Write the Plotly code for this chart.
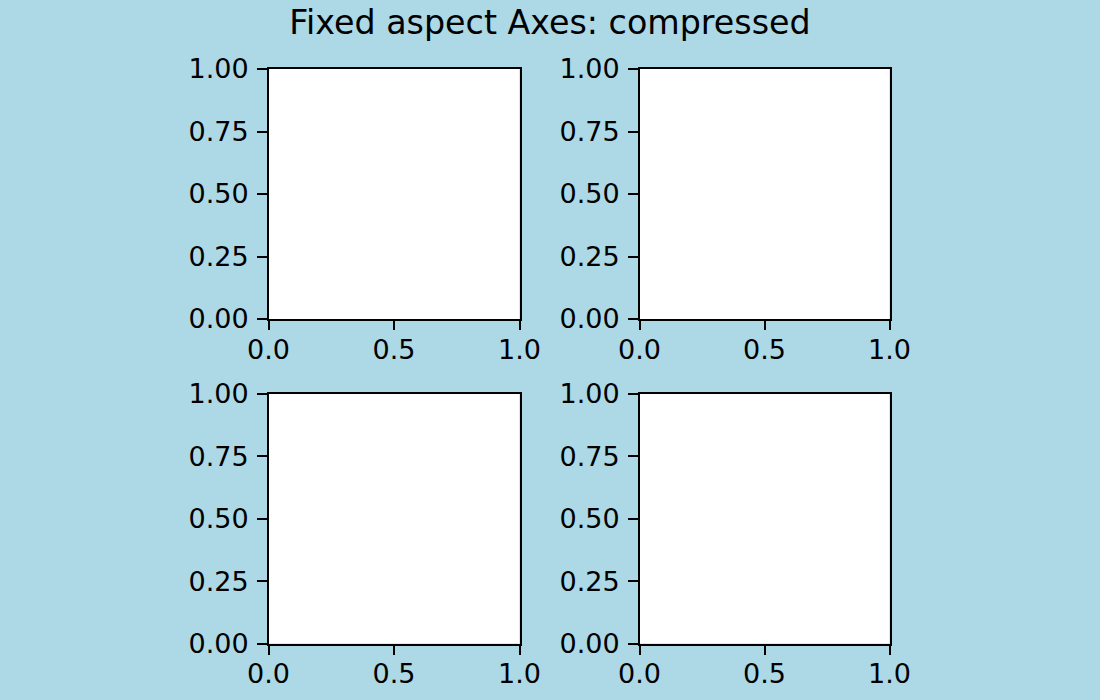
import plotly.graph_objects as go

title_text = "Fixed aspect Axes: compressed"
x_ticks = [0.0, 0.5, 1.0]
x_tick_labels = ["0.0", "0.5", "1.0"]
y_ticks = [0.0, 0.25, 0.5, 0.75, 1.0]
y_tick_labels = ["0.00", "0.25", "0.50", "0.75", "1.00"]

W, H = 1100, 700
cols = [(268.5, 519.5), (639.5, 889.5)]
rows = [(69, 319), (394, 643.5)]

fig = go.Figure()
font = dict(family="DejaVu Sans", size=27, color="black")
n = 0
for r in rows:
    for c in cols:
        n += 1
        sx = "" if n == 1 else str(n)
        fig.add_trace(go.Scatter(x=[], y=[], xaxis="x" + sx, yaxis="y" + sx, showlegend=False))
        common = dict(range=[0, 1], showgrid=False, zeroline=False, showline=True, linecolor="black",
                      linewidth=1.8, mirror=True, ticks="outside", ticklen=9.5, tickwidth=1.8,
                      tickcolor="black", tickfont=font, fixedrange=True, automargin=False)
        fig.layout["xaxis" + sx] = dict(common, domain=[c[0] / W, c[1] / W], anchor="y" + sx,
                                        tickvals=x_ticks, ticktext=x_tick_labels,
                                        ticklabelstandoff=-4)
        fig.layout["yaxis" + sx] = dict(common, domain=[1 - r[1] / H, 1 - r[0] / H], anchor="x" + sx,
                                        tickvals=y_ticks, ticktext=y_tick_labels,
                                        ticklabelstandoff=3)

fig.update_layout(
    template="none",
    width=W, height=H, margin=dict(l=0, r=0, t=0, b=0, pad=0),
    paper_bgcolor="#add8e6", plot_bgcolor="white",
    title=dict(text=title_text, x=0.5, xanchor="center", y=1 - 22 / H, yanchor="middle",
               font=dict(family="DejaVu Sans", size=33.3, color="black")),
)
fig.write_html("out.html", config={"displayModeBar": False},
               post_script="document.body.style.margin='0';document.body.style.overflow='hidden';")
